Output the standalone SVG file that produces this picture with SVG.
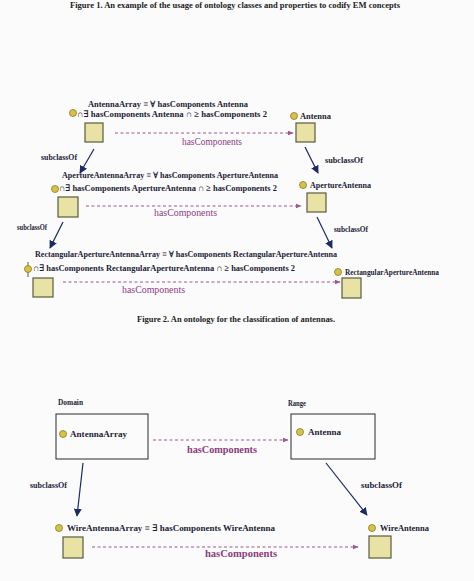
<svg xmlns="http://www.w3.org/2000/svg" width="474" height="581" viewBox="0 0 474 581">
<defs>
<style>
text{font-family:"Liberation Serif","DejaVu Serif",serif;fill:#1c1c34;font-weight:bold;font-size:9px}
.cap{font-size:9px;fill:#222}
.prop{fill:#8a3c7e;font-weight:normal;font-size:9.5px}
.propb{fill:#8a3c7e;font-weight:bold;font-size:10px}
.sq{fill:#e8e3a4;stroke:#5a5a40;stroke-width:1.2}
.dot{fill:#d9c243;stroke:#8a7a30;stroke-width:0.8}
.box{fill:none;stroke:#2a2a2a;stroke-width:1}
.dash{stroke:#a0558f;stroke-width:1;stroke-dasharray:3,2.5;fill:none}
.sub{stroke:#1c2a66;stroke-width:1.2;fill:none}
</style>
<marker id="pa" viewBox="0 0 10 10" refX="9" refY="5" markerWidth="6" markerHeight="6" orient="auto" markerUnits="userSpaceOnUse"><path d="M0,1 L10,5 L0,9 z" fill="#a0558f"/></marker>
<marker id="na" viewBox="0 0 10 10" refX="9" refY="5" markerWidth="8" markerHeight="8" orient="auto" markerUnits="userSpaceOnUse"><path d="M0,0 L10,5 L0,10 z" fill="#1c2a66"/></marker>
</defs>
<rect width="474" height="581" fill="#fbfbfc"/>
<text class="cap" x="70" y="8" textLength="330" lengthAdjust="spacingAndGlyphs">Figure 1. An example of the usage of ontology classes and properties to codify EM concepts</text>
<text class="cap" x="137" y="322" textLength="198" lengthAdjust="spacingAndGlyphs">Figure 2. An ontology for the classification of antennas.</text>

<g id="connectors">
<line class="dash" x1="115" y1="133" x2="293" y2="133" marker-end="url(#pa)"/>
<line class="dash" x1="86" y1="206" x2="301" y2="206" marker-end="url(#pa)"/>
<line class="dash" x1="63" y1="282" x2="340" y2="282" marker-end="url(#pa)"/>
<line class="dash" x1="153" y1="440" x2="288" y2="440" marker-end="url(#pa)"/>
<line class="dash" x1="92" y1="547" x2="358" y2="547" marker-end="url(#pa)"/>
<line class="sub" x1="94" y1="149" x2="80" y2="173" marker-end="url(#na)"/>
<line class="sub" x1="305" y1="147" x2="318" y2="173" marker-end="url(#na)"/>
<line class="sub" x1="63" y1="222" x2="50" y2="248" marker-end="url(#na)"/>
<line class="sub" x1="317" y1="217" x2="332" y2="248" marker-end="url(#na)"/>
<line class="sub" x1="83" y1="463" x2="77" y2="516" marker-end="url(#na)"/>
<line class="sub" x1="326" y1="463" x2="367" y2="515" marker-end="url(#na)"/>
<text class="prop" x="182" y="145" textLength="60" lengthAdjust="spacingAndGlyphs">hasComponents</text>
<text class="prop" x="154" y="216" textLength="63" lengthAdjust="spacingAndGlyphs">hasComponents</text>
<text class="prop" x="122" y="293" textLength="63" lengthAdjust="spacingAndGlyphs">hasComponents</text>
<text class="propb" x="187" y="453" textLength="70" lengthAdjust="spacingAndGlyphs">hasComponents</text>
<text class="propb" x="205" y="557" textLength="72" lengthAdjust="spacingAndGlyphs">hasComponents</text>
<text x="41" y="160" textLength="36" lengthAdjust="spacingAndGlyphs">subclassOf</text>
<text x="325" y="163" textLength="38" lengthAdjust="spacingAndGlyphs">subclassOf</text>
<text x="17" y="230" textLength="30" lengthAdjust="spacingAndGlyphs">subclassOf</text>
<text x="334" y="232" textLength="34" lengthAdjust="spacingAndGlyphs">subclassOf</text>
<text x="30" y="488" textLength="37" lengthAdjust="spacingAndGlyphs">subclassOf</text>
<text x="361" y="488" textLength="41" lengthAdjust="spacingAndGlyphs">subclassOf</text>
</g>

<g id="antennaArray">
<text x="88" y="107" textLength="160" lengthAdjust="spacingAndGlyphs">AntennaArray ≡ ∀ hasComponents Antenna</text>
<circle class="dot" cx="73" cy="113" r="3.5"/>
<text x="77" y="117" textLength="190" lengthAdjust="spacingAndGlyphs">∩∃ hasComponents Antenna ∩ ≥ hasComponents 2</text>
<rect class="sq" x="85" y="123" width="18" height="19"/>
</g>

<g id="antenna">
<circle class="dot" cx="294" cy="116" r="3.5"/>
<text x="300" y="119" textLength="31" lengthAdjust="spacingAndGlyphs">Antenna</text>
<rect class="sq" x="296" y="123" width="19" height="19"/>
</g>

<g id="apertureAntennaArray">
<text x="62" y="178" textLength="216" lengthAdjust="spacingAndGlyphs">ApertureAntennaArray ≡ ∀ hasComponents ApertureAntenna</text>
<circle class="dot" cx="55" cy="189" r="3.5"/>
<text x="59" y="191" textLength="218" lengthAdjust="spacingAndGlyphs">∩∃ hasComponents ApertureAntenna ∩ ≥ hasComponents 2</text>
<rect class="sq" x="58" y="197" width="20" height="20"/>
</g>

<g id="apertureAntenna">
<circle class="dot" cx="303" cy="185" r="3.5"/>
<text x="310" y="188" textLength="61" lengthAdjust="spacingAndGlyphs">ApertureAntenna</text>
<rect class="sq" x="307" y="193" width="19" height="19"/>
</g>

<g id="rectangularApertureAntennaArray">
<text x="35" y="257" textLength="302" lengthAdjust="spacingAndGlyphs">RectangularApertureAntennaArray ≡ ∀ hasComponents RectangularApertureAntenna</text>
<line x1="28" y1="262" x2="28" y2="277" stroke="#5a5a40" stroke-width="1"/>
<circle class="dot" cx="28" cy="269" r="3.5"/>
<text x="33" y="271" textLength="262" lengthAdjust="spacingAndGlyphs">∩∃ hasComponents RectangularApertureAntenna ∩ ≥ hasComponents 2</text>
<rect class="sq" x="33" y="278" width="20" height="19"/>
</g>

<g id="rectangularApertureAntenna">
<circle class="dot" cx="338" cy="272" r="3.5"/>
<text x="345" y="275" textLength="94" lengthAdjust="spacingAndGlyphs">RectangularApertureAntenna</text>
<rect class="sq" x="342" y="278" width="19" height="20"/>
</g>

<g id="domain">
<text x="58" y="405" textLength="25" lengthAdjust="spacingAndGlyphs">Domain</text>
<rect class="box" x="56" y="414" width="92" height="45"/>
<circle class="dot" cx="63" cy="434" r="3.5"/>
<text x="70" y="437" textLength="57" lengthAdjust="spacingAndGlyphs">AntennaArray</text>
</g>

<g id="range">
<text x="288" y="406" textLength="18" lengthAdjust="spacingAndGlyphs">Range</text>
<rect class="box" x="291" y="414" width="84" height="45"/>
<circle class="dot" cx="300" cy="432" r="3.5"/>
<text x="308" y="435" textLength="33" lengthAdjust="spacingAndGlyphs">Antenna</text>
</g>

<g id="wireAntennaArray">
<circle class="dot" cx="59" cy="528" r="3.5"/>
<text x="67" y="531" textLength="208" lengthAdjust="spacingAndGlyphs" font-size="10">WireAntennaArray ≡ ∃ hasComponents WireAntenna</text>
<rect class="sq" x="63" y="537" width="20" height="21"/>
</g>

<g id="wireAntenna">
<circle class="dot" cx="372" cy="528" r="3.5"/>
<text x="380" y="531" textLength="49" lengthAdjust="spacingAndGlyphs" font-size="10">WireAntenna</text>
<rect class="sq" x="369" y="536" width="22" height="22"/>
</g>
</svg>
